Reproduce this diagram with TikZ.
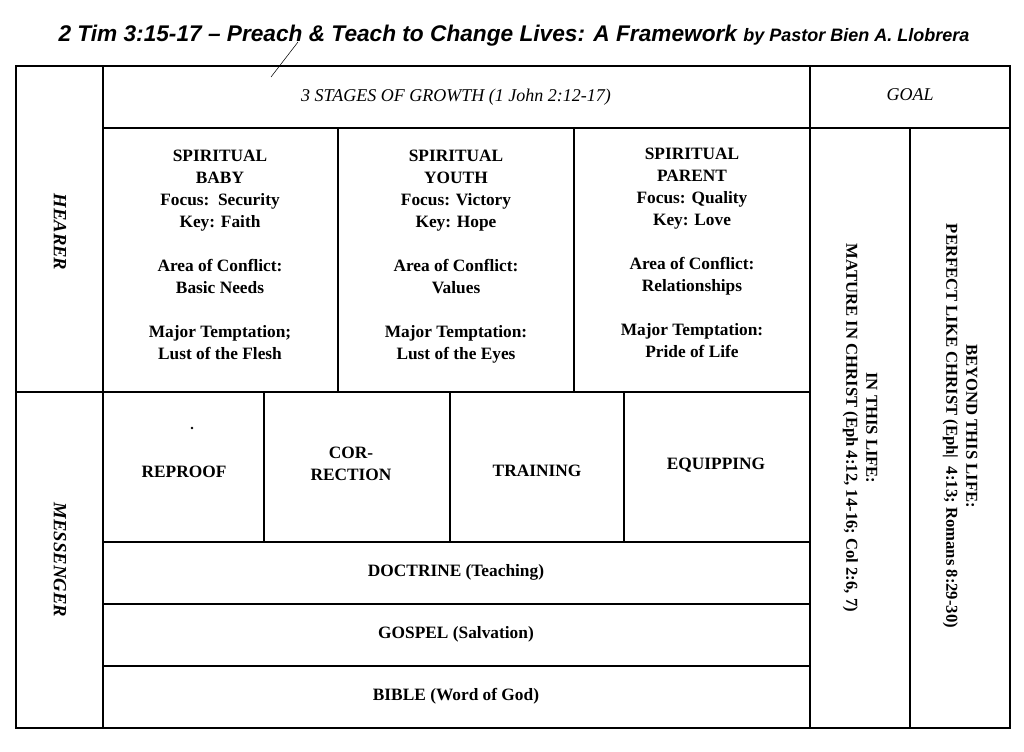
\documentclass[tikz,border=0pt]{standalone}
\usepackage{fontspec}
\setmainfont{Liberation Serif}
\newfontfamily\titlefont{Liberation Sans}
\begin{document}
\begin{tikzpicture}[x=0.75pt,y=-0.75pt,
  thick/.style={line width=2pt},
  cell/.style={font=\bfseries\fontsize{13}{16.5}\selectfont,align=center,inner sep=0pt},
  hd/.style={font=\itshape\fontsize{13.5}{15}\selectfont,inner sep=0pt},
  side/.style={font=\bfseries\itshape\fontsize{14}{16}\selectfont,inner sep=0pt,rotate=-90},
  goal/.style={font=\bfseries\fontsize{12.5}{15}\selectfont,align=center,inner sep=0pt,rotate=-90}]
\useasboundingbox (0,0) rectangle (1024,752);
\node[font=\titlefont\bfseries\itshape\fontsize{17}{19}\selectfont,inner sep=0pt] (title) at (514,36)
 {2 Tim 3:15-17 – Preach \& Teach to Change Lives: A Framework {\fontsize{13.5}{15}\selectfont by Pastor Bien A. Llobrera}};
\draw[thin] (298,42) -- (271,77);
% grid
\draw[thick] (16,66) rectangle (1010,728);
\draw[thick] (103,66) -- (103,728);
\draw[thick] (810,66) -- (810,728);
\draw[thick] (910,128) -- (910,728);
\draw[thick] (103,128) -- (1010,128);
\draw[thick] (16,392) -- (810,392);
\draw[thick] (338,128) -- (338,392);
\draw[thick] (574,128) -- (574,392);
\draw[thick] (264,392) -- (264,542);
\draw[thick] (450,392) -- (450,542);
\draw[thick] (624,392) -- (624,542);
\draw[thick] (103,542) -- (810,542);
\draw[thick] (103,604) -- (810,604);
\draw[thick] (103,666) -- (810,666);
% headers
\node[hd] (stages) at (456,97) {3 STAGES OF GROWTH (1 John 2:12-17)};
\node[hd] (goalh) at (910,95) {GOAL};
\node[side] (hearer) at (60,232) {HEARER};
\node[side] (messenger) at (60,560) {MESSENGER};
% stages
\node[cell,anchor=north] (baby) at (220,150) {SPIRITUAL\\BABY\\Focus:\ \ Security\\Key: Faith\\[16.5pt]Area of Conflict:\\Basic Needs\\[16.5pt]Major Temptation;\\Lust of the Flesh};
\node[cell,anchor=north] (youth) at (456,150) {SPIRITUAL\\YOUTH\\Focus: Victory\\Key: Hope\\[16.5pt]Area of Conflict:\\Values\\[16.5pt]Major Temptation:\\Lust of the Eyes};
\node[cell,anchor=north] (parent) at (692,148) {SPIRITUAL\\PARENT\\Focus: Quality\\Key: Love\\[16.5pt]Area of Conflict:\\Relationships\\[16.5pt]Major Temptation:\\Pride of Life};
% methods
\fill (192,428) circle (1pt);
\node[cell] (reproof) at (184,472) {REPROOF};
\node[cell] (corr) at (351,464) {COR-\\RECTION};
\node[cell] (training) at (537,471) {TRAINING};
\node[cell] (equip) at (716,465) {EQUIPPING};
\node[cell] (doctrine) at (456,572) {DOCTRINE (Teaching)};
\node[cell] (gospel) at (456,634) {GOSPEL (Salvation)};
\node[cell] (bible) at (456,696) {BIBLE (Word of God)};
% goals
\node[goal] (inthis) at (860,428) {IN THIS LIFE:\\MATURE IN CHRIST (Eph 4:12, 14-16; Col 2:6, 7)};
\node[goal] (beyond) at (960,426) {BEYOND THIS LIFE:\\PERFECT LIKE CHRIST (Eph\textbar\ \ 4:13; Romans 8:29-30)};
\end{tikzpicture}
\end{document}
